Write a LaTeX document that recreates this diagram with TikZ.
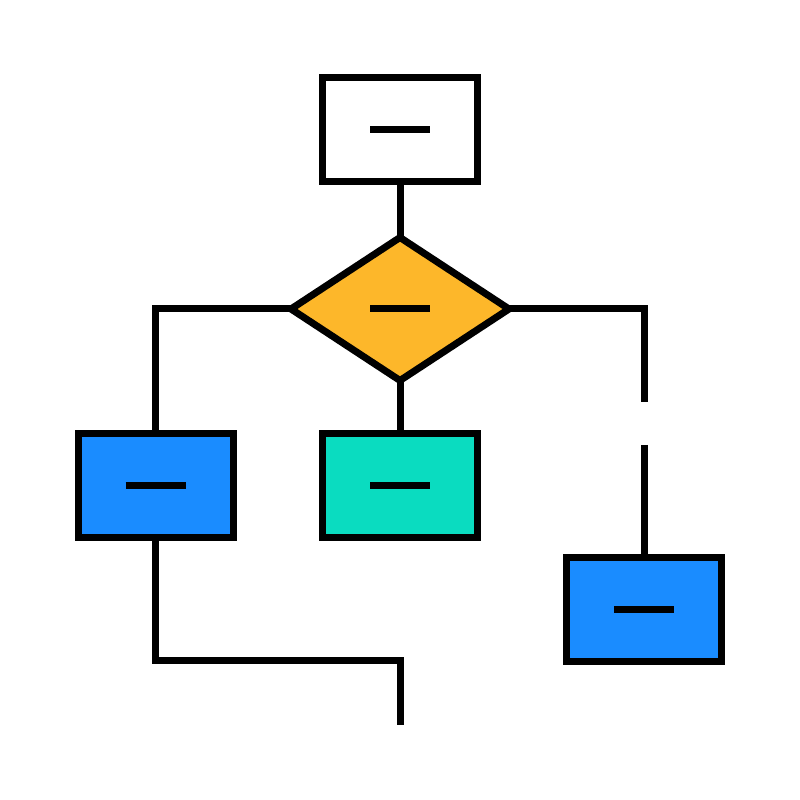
\documentclass[tikz,border=0pt]{standalone}
\usepackage{xcolor}
\usetikzlibrary{shapes.geometric,positioning}
\definecolor{flowyellow}{HTML}{FDB72A}
\definecolor{flowblue}{HTML}{1A8CFF}
\definecolor{flowteal}{HTML}{0ADCC0}

\begin{document}
\begin{tikzpicture}[
    box/.style={draw, line width=0.07cm, minimum width=1.55cm, minimum height=1.04cm, inner sep=0pt},
    decision/.style={diamond, draw, line width=0.07cm, minimum width=2.18cm, minimum height=1.43cm, inner sep=0pt, outer sep=0pt, fill=flowyellow},
    bar/.style={path picture={\draw[line width=0.07cm] ([xshift=-0.30cm]path picture bounding box.center) -- ([xshift=0.30cm]path picture bounding box.center);}},
    link/.style={line width=0.07cm}
]
    \useasboundingbox (0,0) rectangle (8,8);

    % Start
    \node [box, fill=white, bar] (start) at (4.00, 6.705) {};

    % Decision
    \node [decision, bar] (dec) at (4.00, 4.91) {};

    % Branches
    \node [box, fill=flowblue, bar] (left) at (1.555, 3.145) {};
    \node [box, fill=flowteal, bar] (mid) at (4.00, 3.145) {};
    \node [box, fill=flowblue, bar] (right) at (6.44, 1.905) {};

    % free ends of the broken lines
    \coordinate (gaptop) at (6.44, 3.98);
    \coordinate (gapbot) at (6.44, 3.55);
    \coordinate (bend) at (4.00, 1.39);
    \coordinate (tail) at (4.00, 0.75);

    % Connectors
    \draw [link] (start.south) -- (dec.north);
    \draw [link] (dec.south) -- (mid.north);
    \draw [link] (dec.west) -| (left.north);
    \draw [link] (dec.east) -| (gaptop);
    \draw [link] (gapbot) -- (right.north);
    \draw [link] (left.south) |- (bend) -- (tail);
\end{tikzpicture}
\end{document}
